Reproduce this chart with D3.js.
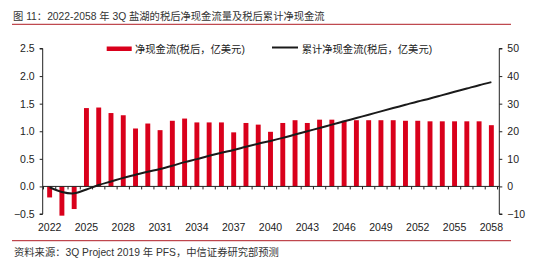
<!DOCTYPE html>
<html>
<head>
<meta charset="utf-8">
<script src="https://cdn.jsdelivr.net/npm/d3@7/dist/d3.min.js"></script>
<style>
  body { margin: 0; background: #fff; }
  svg { display: block; }
  text { font-family: "Liberation Sans", Arial, "Noto Sans CJK SC", sans-serif; }
</style>
</head>
<body>
<svg id="chart" width="539" height="269"></svg>
<script>
const years = d3.range(2022, 2059);
const netCashFlow = [-0.2, -0.53, -0.41, 1.42, 1.43, 1.33, 1.29, 1.05, 1.14, 1.02, 1.19, 1.23, 1.16, 1.16, 1.16, 0.98, 1.15, 1.12, 0.99, 1.15, 1.20, 1.15, 1.21, 1.21, 1.19, 1.20, 1.20, 1.20, 1.20, 1.19, 1.19, 1.18, 1.18, 1.18, 1.18, 1.18, 1.11];
const cumulativeCashFlow = [-0.3, -2.0, -2.5, -1.1, 0.5, 1.8, 3.1, 4.2, 5.3, 6.3, 7.5, 8.8, 9.9, 11.1, 12.2, 13.2, 14.4, 15.5, 16.5, 17.6, 18.8, 20.0, 21.2, 22.4, 23.6, 24.8, 26.0, 27.2, 28.4, 29.6, 30.8, 31.9, 33.1, 34.3, 35.5, 36.7, 37.8];
const leftTicks = [-0.5, 0.0, 0.5, 1.0, 1.5, 2.0, 2.5];
const rightTicks = [-10, 0, 10, 20, 30, 40, 50];
const xTickLabels = [2022, 2025, 2028, 2031, 2034, 2037, 2040, 2043, 2046, 2049, 2052, 2055, 2058];
const title = "图 11：2022-2058 年 3Q 盐湖的税后净现金流量及税后累计净现金流";
const source = "资料来源：3Q Project 2019 年 PFS，中信证券研究部预测";
const legendBar = "净现金流(税后，亿美元)";
const legendLine = "累计净现金流(税后，亿美元)";

const svg = d3.select("#chart");
const red = "#d9001b";
const dark = "#222";
const ruleRed = "#b01c24";

const axL = 42.7, axR = 499.3;
const x = d3.scaleBand().domain(years).range([43.5, 497.5]).paddingInner(0.6).paddingOuter(0.3);
const yL = d3.scaleLinear().domain([-0.5, 2.5]).range([214, 48.5]);
const yR = d3.scaleLinear().domain([-10, 50]).range([214, 48.5]);

// title
svg.append("text").attr("x", 13).attr("y", 19.5).attr("font-size", 10.3).attr("fill", "#333").text(title);
svg.append("line").attr("x1", 12).attr("x2", 511).attr("y1", 24.3).attr("y2", 24.3).attr("stroke", ruleRed).attr("stroke-width", 1);

// bars
svg.append("g").selectAll("rect").data(netCashFlow).join("rect")
  .attr("x", (d, i) => x(years[i]))
  .attr("width", x.bandwidth())
  .attr("y", d => Math.min(yL(d), yL(0)))
  .attr("height", d => Math.abs(yL(d) - yL(0)))
  .attr("fill", red);

// left axis
const gL = svg.append("g").attr("transform", `translate(${axL},0)`)
  .call(d3.axisLeft(yL).tickValues(leftTicks).tickFormat(d3.format(".1f")).tickSize(3).tickPadding(5));
gL.select(".domain").attr("stroke", dark).attr("d", `M-3,${yL(-0.5)}H0V${yL(2.5)}H-3`);
gL.selectAll(".tick line").attr("stroke", dark);
gL.selectAll("text").attr("font-size", 10.5).attr("fill", dark).attr("font-family", "Liberation Sans, Arial, sans-serif");

// right axis
const gR = svg.append("g").attr("transform", `translate(${axR},0)`)
  .call(d3.axisRight(yR).tickValues(rightTicks).tickFormat(d3.format("d")).tickSize(3).tickPadding(5));
gR.select(".domain").attr("stroke", dark).attr("d", `M3,${yR(-10)}H0V${yR(50)}H3`);
gR.selectAll(".tick line").attr("stroke", dark);
gR.selectAll("text").attr("font-size", 10.5).attr("fill", dark).attr("font-family", "Liberation Sans, Arial, sans-serif");

// x axis line at zero with ticks between categories
const y0 = yL(0);
svg.append("line").attr("x1", axL).attr("x2", axR).attr("y1", y0).attr("y2", y0).attr("stroke", dark).attr("stroke-width", 1);
const step = x.step();
const boundaries = years.map(yr => x(yr) + x.bandwidth() / 2 - step / 2).concat([x(years[years.length - 1]) + x.bandwidth() / 2 + step / 2]);
svg.append("g").selectAll("line").data(boundaries).join("line")
  .attr("x1", d => d).attr("x2", d => d).attr("y1", y0).attr("y2", y0 + 3)
  .attr("stroke", dark).attr("stroke-width", 1);
svg.append("g").selectAll("text").data(xTickLabels).join("text")
  .attr("x", d => x(d) + x.bandwidth() / 2)
  .attr("y", 231)
  .attr("text-anchor", "middle")
  .attr("font-size", 10.5).attr("fill", dark)
  .text(d => d);

// cumulative line
const line = d3.line()
  .x((d, i) => x(years[i]) + x.bandwidth() / 2)
  .y(d => yR(d))
  .curve(d3.curveCatmullRom.alpha(0.5));
svg.append("path").datum(cumulativeCashFlow).attr("d", line)
  .attr("fill", "none").attr("stroke", "#1a1a1a").attr("stroke-width", 2);

// legend
svg.append("rect").attr("x", 106.7).attr("y", 46.5).attr("width", 25).attr("height", 4.5).attr("fill", red);
svg.append("text").attr("x", 135).attr("y", 52.5).attr("font-size", 10.3).attr("fill", dark).text(legendBar);
svg.append("line").attr("x1", 272).attr("x2", 298).attr("y1", 47.5).attr("y2", 47.5).attr("stroke", "#1a1a1a").attr("stroke-width", 2);
svg.append("text").attr("x", 301.7).attr("y", 52.5).attr("font-size", 10.3).attr("fill", dark).text(legendLine);

// footer
svg.append("line").attr("x1", 12).attr("x2", 511).attr("y1", 240.7).attr("y2", 240.7).attr("stroke", ruleRed).attr("stroke-width", 1);
svg.append("text").attr("x", 14).attr("y", 255.5).attr("font-size", 10.3).attr("fill", "#333").text(source);
</script>
</body>
</html>
